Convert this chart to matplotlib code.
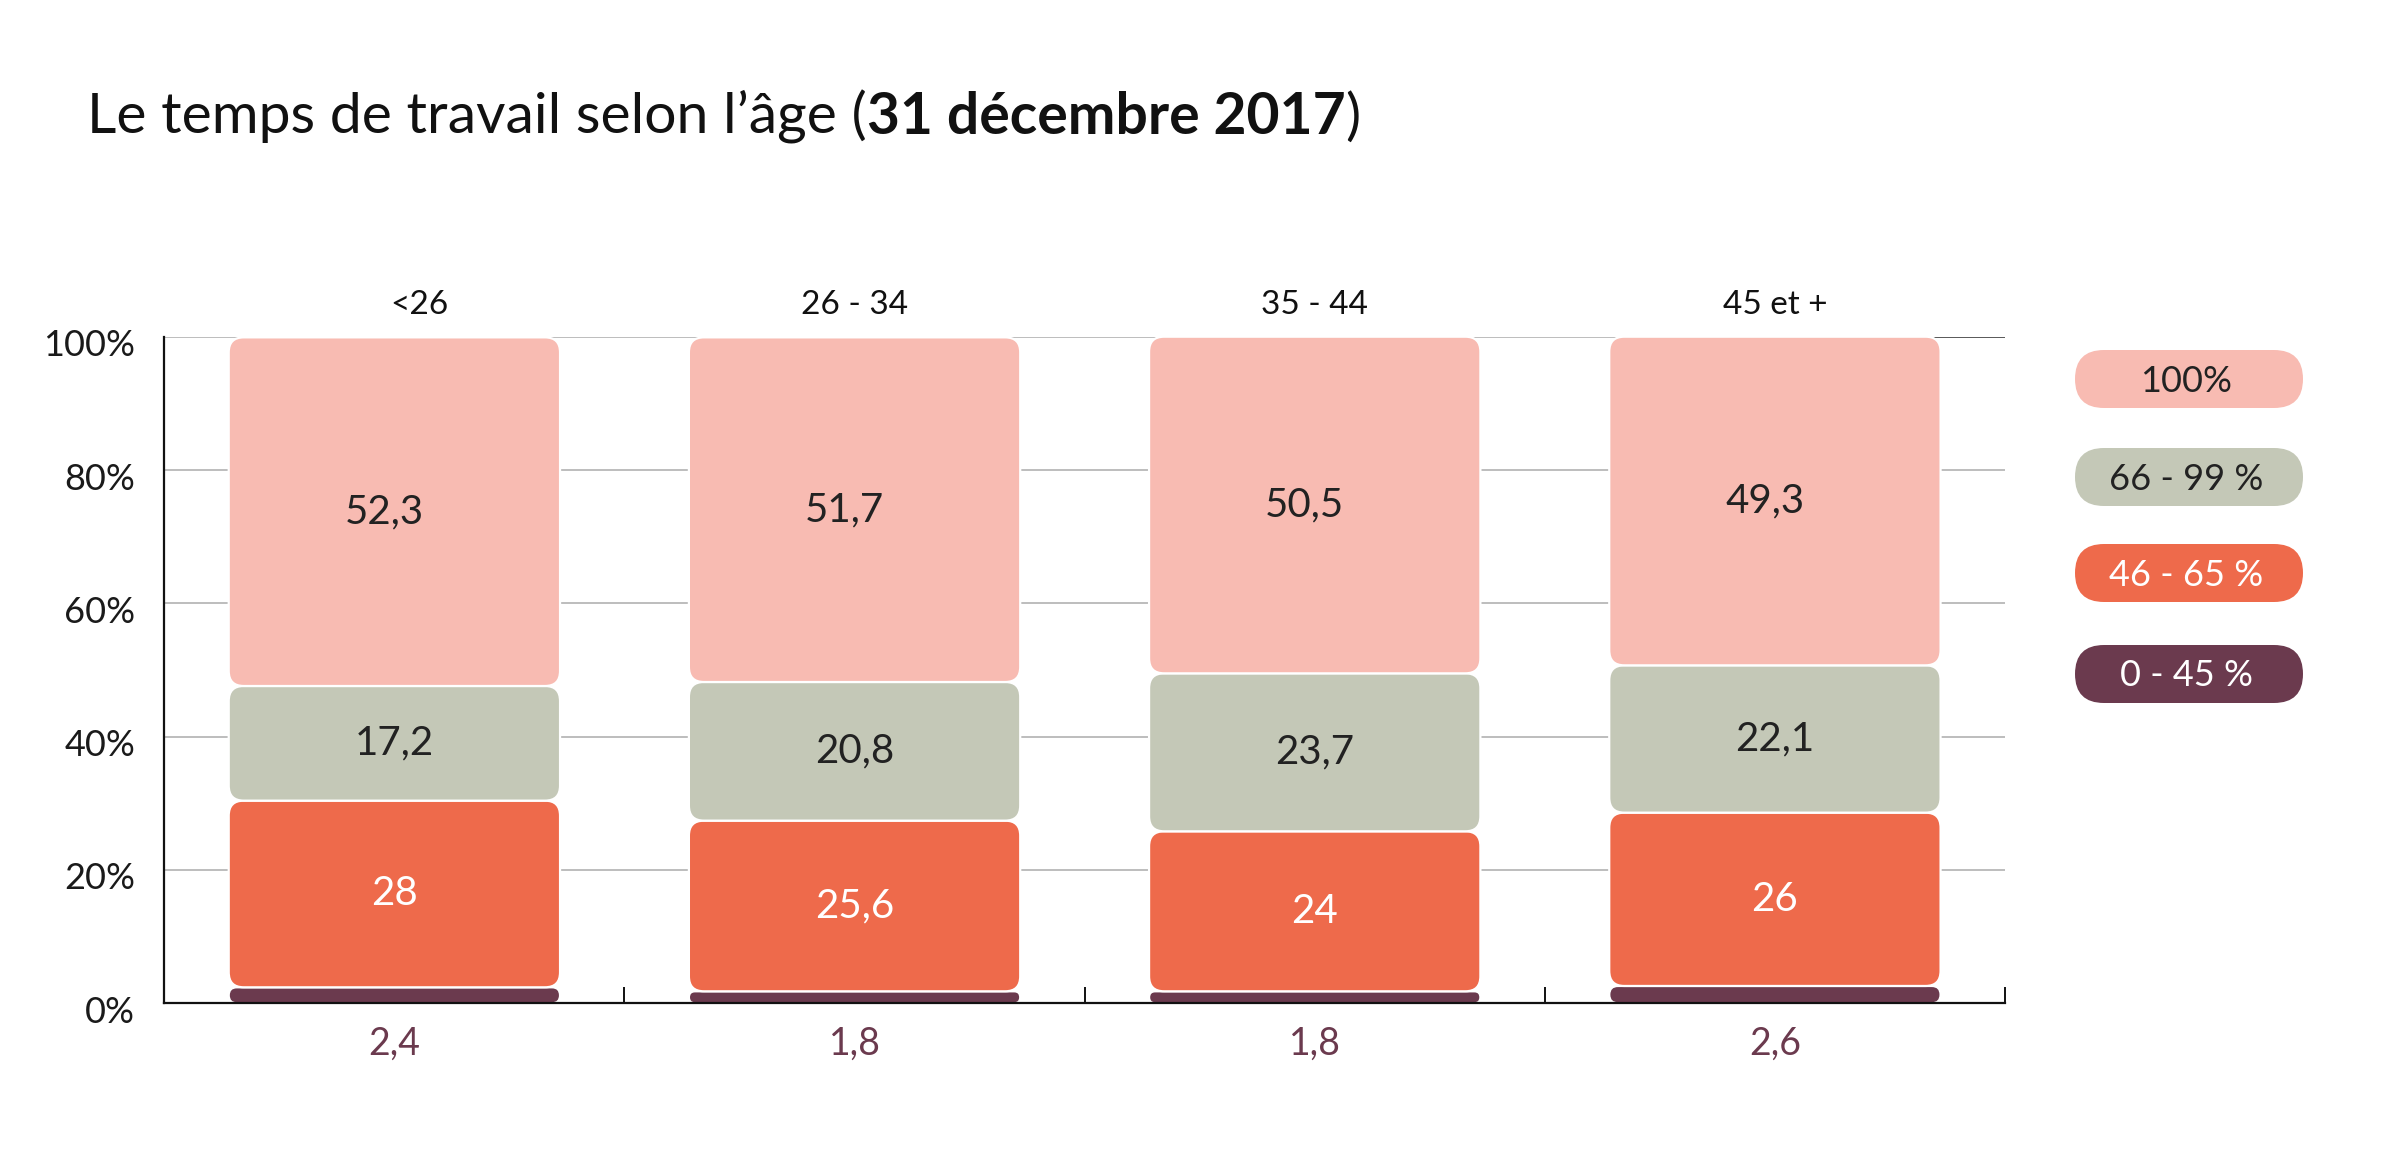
import matplotlib
matplotlib.use("Agg")
import matplotlib.pyplot as plt
import numpy as np
from matplotlib.patches import FancyBboxPatch
from matplotlib.transforms import ScaledTranslation

plt.rcParams["font.family"] = ["Lato", "DejaVu Sans"]
plt.rcParams["font.weight"] = "normal"

# data
ages = ["<26", "26 - 34", "35 - 44", "45 et +"]
seg_names = ["0 - 45 %", "46 - 65 %", "66 - 99 %", "100%"]
v_0_45 = [2.4, 1.8, 1.8, 2.6]
v_46_65 = [28, 25.6, 24, 26]
v_66_99 = [17.2, 20.8, 23.7, 22.1]
v_100 = [52.3, 51.7, 50.5, 49.3]
series = [v_0_45, v_46_65, v_66_99, v_100]

colors = ["#6B3A4E", "#EE6A4B", "#C4C8B7", "#F8BBB2"]
txt_colors = ["#6B3A4E", "white", "#222222", "#222222"]
yticks = [0, 20, 40, 60, 80, 100]

W, H = 2389, 1168
fig = plt.figure(figsize=(W / 100, H / 100), dpi=100)
ax = fig.add_axes([164.3 / W, 1 - 1003.3 / H, (2005 - 164.3) / W, (1003.3 - 336.7) / H])
ax.set_facecolor("none")
ax.set_xlim(-0.5, 3.5)
ax.set_ylim(0, 100)

for y in yticks[1:]:
    ax.axhline(y, color="#BDBDBD", lw=1.4, zorder=0)
ax.axhline(100, xmin=0.952, xmax=1.0, color="#5a5a5a", lw=1.4, zorder=0.5)

# pixel size of one data unit, for rounded corners
p0 = ax.transData.transform((0, 0))
p1 = ax.transData.transform((1, 1))
px_x, px_y = p1[0] - p0[0], p1[1] - p0[1]
aspect = px_x / px_y
r_px = 15

x = np.arange(len(ages))
bottom = np.zeros(len(ages))
for k, vals in enumerate(series):
    bars = ax.bar(x, vals, bottom=bottom, width=0.72, color=colors[k])
    for rect, v in zip(bars, vals):
        rect.set_visible(False)
        bx, by = rect.get_x(), rect.get_y()
        bw, bh = rect.get_width(), rect.get_height()
        rs = min(r_px / px_x, bw / 2, bh / aspect / 2)
        ax.add_patch(FancyBboxPatch((bx, by), bw, bh,
                                    boxstyle=f"round,pad=0,rounding_size={rs}",
                                    mutation_aspect=aspect, fc=colors[k],
                                    ec="white", lw=1.6, zorder=2))
        lab = f"{v:g}".replace(".", ",")
        if k == 0:
            ax.text(bx + bw / 2, -6.0, lab, ha="center", va="center",
                    fontsize=27, color=txt_colors[k], clip_on=False)
        else:
            dx = -0.022 if k == 3 else 0
            ax.text(bx + bw / 2 + dx, by + bh / 2, lab, ha="center", va="center",
                    fontsize=29, color=txt_colors[k], zorder=3)
    bottom += np.array(vals)

for i, a in enumerate(ages):
    ax.text(i + (0.055 if i == 0 else 0), 104.7, a, ha="center", va="center",
            fontsize=24, color="#111111", clip_on=False)

for s in ["top", "right"]:
    ax.spines[s].set_visible(False)
for s in ["left", "bottom"]:
    ax.spines[s].set_linewidth(1.6)
    ax.spines[s].set_color("#111111")

ax.set_yticks(yticks)
ax.set_yticklabels([f"{t}%" for t in yticks], fontsize=26, color="#1a1a1a")
ax.tick_params(axis="y", length=0, pad=21)
ax.set_xticks([0.5, 1.5, 2.5, 3.5])
ax.set_xticklabels([])
ax.tick_params(axis="x", direction="in", length=11.5, width=1.4, color="#111111")
for lab in ax.get_yticklabels():
    lab.set_transform(lab.get_transform() + ScaledTranslation(0, -0.06, fig.dpi_scale_trans))

# overlay in pixel units for title and legend
ov = fig.add_axes([0, 0, 1, 1], zorder=-1)
ov.set_xlim(0, W)
ov.set_ylim(H, 0)
ov.axis("off")

r = fig.canvas.get_renderer()
t1 = ov.text(87, 134, "Le temps de travail selon l’âge (", fontsize=41,
             va="baseline", color="#111111")
bb = t1.get_window_extent(renderer=r)
x2 = bb.x1
t2 = ov.text(x2, H - 134, "31 décembre 2017", fontsize=41, va="baseline",
             weight="bold", color="#111111", transform=None)
bb2 = t2.get_window_extent(renderer=r)
t3 = ov.text(bb2.x1, H - 134, ")", fontsize=41, va="baseline", color="#111111",
             transform=None)

leg_y = [379, 477, 573, 674]
leg_cols = colors[::-1]
leg_names = seg_names[::-1]
leg_txt = ["#222222", "#222222", "white", "white"]
for yc, c, n, tc in zip(leg_y, leg_cols, leg_names, leg_txt):
    ov.add_patch(FancyBboxPatch((2075, yc - 29), 228, 58,
                                boxstyle="round,pad=0,rounding_size=29",
                                fc=c, ec="none"))
    ov.text(2186, yc + 2, n, ha="center", va="center", fontsize=26, color=tc)

fig.savefig("out.png", dpi=100)
